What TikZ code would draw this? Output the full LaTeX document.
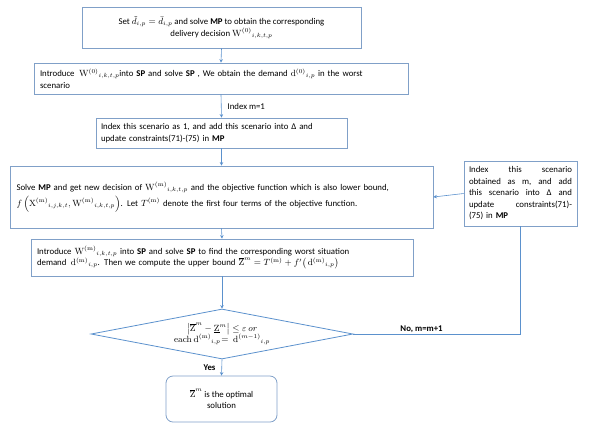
\documentclass[tikz,border=0pt]{standalone}
\usepackage{amsmath}
\usepackage[no-math]{fontspec}
\setmainfont{Carlito}
\usetikzlibrary{shapes.geometric,arrows.meta}
\definecolor{boxline}{RGB}{128,160,200}
\definecolor{arrowcol}{RGB}{91,145,205}
\tikzset{
  flowbox/.style={draw=boxline, line width=0.8pt, rectangle, inner sep=0pt, font=\fontsize{8.8}{11.5}\selectfont},
  flowtext/.style={font=\fontsize{8.8}{11.5}\selectfont, inner sep=0pt},
  conn/.style={draw=arrowcol, line width=0.6pt},
  arr/.style={conn, -{Stealth[length=3.5pt,width=3.5pt]}},
  lab/.style={font=\fontsize{8.8}{10}\selectfont, inner sep=0pt}
}
\newcommand{\sps}[3]{\mathrm{#1}^{(#2)}{}_{#3}}
\begin{document}
\begin{tikzpicture}[x=1pt,y=-1pt]
\useasboundingbox (0,0) rectangle (593,432);
% boxes
\node[flowbox, minimum width=279pt, minimum height=41pt] (b1) at (221.5,27.5) {};
\node[flowtext, align=center] (t1) at (b1) {Set $\tilde d_{i,p} = \bar d_{i,p}$ and solve \textbf{MP} to obtain the corresponding\\ delivery decision $\sps{W}{0}{i,k,t,p}$};
\node[flowbox, minimum width=374pt, minimum height=31pt] (b2) at (221,78.5) {};
\node[flowtext, text width=362pt, align=left] (t2) at (b2) {Introduce\, $\sps{W}{0}{i,k,t,p}$into \textbf{SP} and solve \textbf{SP} , We obtain the demand $\sps{d}{0}{i,p}$ in the worst\\ scenario};
\node[flowbox, minimum width=251pt, minimum height=30pt] (b3) at (221.5,133) {};
\node[flowtext, text width=241pt, align=left] (t3) at (b3) {Index this scenario as 1, and add this scenario into Δ and\\ update constraints(71)-(75) in \textbf{MP}};
\node[flowbox, minimum width=423pt, minimum height=62pt] (b4) at (221.5,197) {};
\node[flowtext, text width=410pt, align=left] (t4) at (b4) {Solve \textbf{MP} and get new decision of $\sps{W}{\mathrm{m}}{i,k,t,p}$ and the objective function which is also lower bound,\\[2pt] $f\left(\sps{X}{\mathrm{m}}{i,j,k,t}, \sps{W}{\mathrm{m}}{i,k,t,p}\right)$. Let $T^{(\mathrm{m})}$ denote the first four terms of the objective function.};
\node[flowbox, minimum width=382pt, minimum height=37pt] (b5) at (222,257.5) {};
\node[flowtext, text width=370pt, align=left] (t5) at (b5) {Introduce $\sps{W}{\mathrm{m}}{i,k,t,p}$ into \textbf{SP} and solve \textbf{SP} to find the corresponding worst situation\\ demand\, $\sps{d}{\mathrm{m}}{i,p}$. Then we compute the upper bound $\overline{\mathrm{Z}}^{m} = T^{(\mathrm{m})} + f'\big(\,\sps{d}{\mathrm{m}}{i,p}\big)$};
\node[draw=arrowcol, line width=0.8pt, diamond, inner sep=0pt, minimum width=262pt, minimum height=50pt, aspect=5.24] (dia) at (222,334) {};
\node[flowtext, align=center] (tdia) at (dia) {$\left|\overline{\mathrm{Z}}^{m} - \underline{\mathrm{Z}}^{m}\right| \le \varepsilon\ or$\\ $\mathrm{each}\ \sps{d}{\mathrm{m}}{i,p}\!=\ \sps{d}{m-1}{i,p}$};
\node[flowbox, minimum width=113pt, minimum height=65pt] (b6) at (520.5,193.5) {};
\node[flowtext, text width=103pt, align=left] (t6) at (b6) {Index\hfill this\hfill scenario\\ obtained\hfill as\hfill m,\hfill and\hfill add\\ this\hfill scenario\hfill into\hfill Δ\hfill and\\ update\hfill constraints(71)-\\ (75) in \textbf{MP}};
\node[flowbox, rounded corners=7pt, minimum width=111pt, minimum height=46pt] (b7) at (221.5,399) {};
\node[flowtext, align=center] (t7) at (b7) {$\overline{\mathrm{Z}}^{m}$ is the optimal\\ solution};
% connectors
\draw[arr] (b1.south) -- (b2.north);
\draw[arr] (b2.south) -- node[lab, right=6pt, anchor=west] (l1) {Index m=1} (b3.north);
\draw[arr] (b3.south) -- (b4.north);
\draw[arr] (b4.south) -- (b5.north);
\draw[arr] (b5.south) -- (dia.north);
\draw[arr] (dia.south) -- node[lab, left=6pt, anchor=east, font=\bfseries\fontsize{8.8}{10}\selectfont] (l2) {Yes} (b7.north);
\coordinate (corner) at (b6.south |- dia.east);
\draw[conn] (dia.east) -- node[lab, pos=0.28, above=1pt, anchor=south west, font=\bfseries\fontsize{8.8}{10}\selectfont] (l3) {No, m=m+1} (corner) -- (b6.south);
\draw[arr] (b6.west) -- (b4.east);
\end{tikzpicture}
\end{document}
